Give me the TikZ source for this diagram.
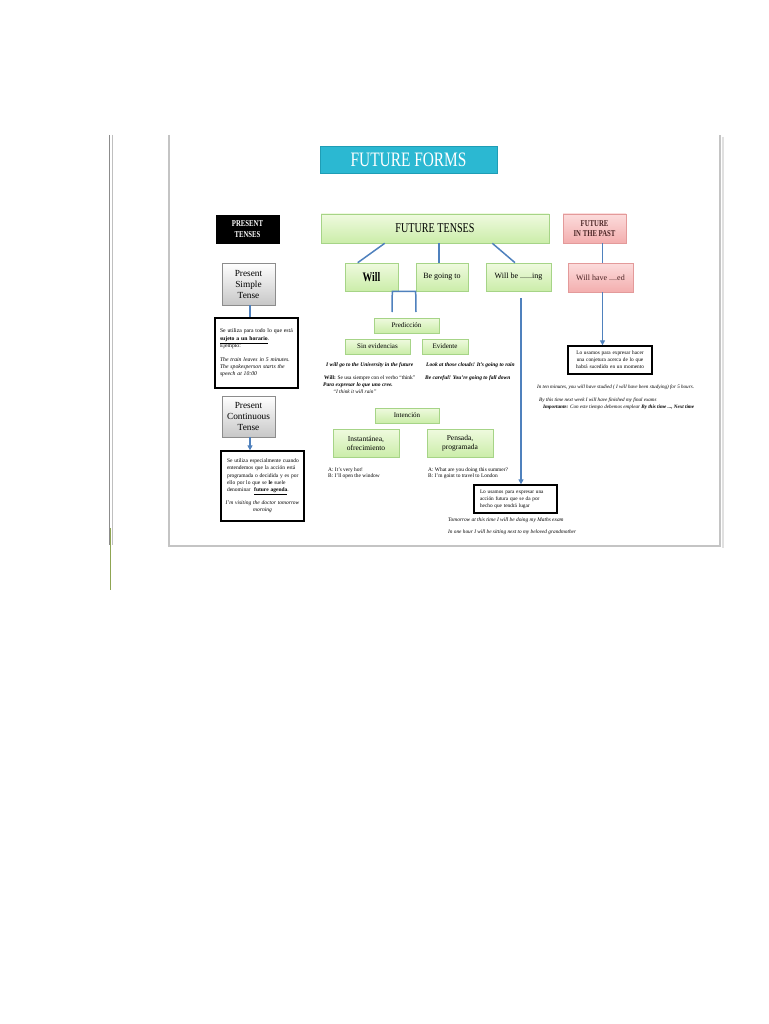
\documentclass[tikz,border=0pt]{standalone}
\usepackage{fontspec}
\setmainfont{Liberation Serif}
\newfontfamily\condfont[FakeStretch=0.75]{Liberation Serif}
\usetikzlibrary{shadows,arrows.meta}
\definecolor{lineblue}{HTML}{4F81BD}
\definecolor{gtop}{HTML}{EFFADF}
\definecolor{gbot}{HTML}{CBEDA9}
\definecolor{gborder}{HTML}{A6D487}
\definecolor{ptop}{HTML}{FCDCDC}
\definecolor{pbot}{HTML}{F3AEAE}
\definecolor{pborder}{HTML}{E39A9A}
\definecolor{teal1}{HTML}{2BB8D2}
\definecolor{teal2}{HTML}{1F9DB5}
\definecolor{framegray}{HTML}{C4C4C4}
\definecolor{darkred}{HTML}{4A2424}
\definecolor{olivemark}{HTML}{8FA552}
\newcommand{\jline}[2]{\makebox[#1][s]{#2}}
\tikzset{
  box/.style={draw, inner sep=0pt, align=center,
    drop shadow={shadow xshift=1pt, shadow yshift=-1pt, opacity=0.3}},
  greenbox/.style={box, top color=gtop, bottom color=gbot, draw=gborder, line width=0.6pt},
  graybox/.style={box, top color=white, bottom color=black!22, draw=black!45, line width=0.6pt},
  pinkbox/.style={box, top color=ptop, bottom color=pbot, draw=pborder, line width=0.6pt},
  tbox/.style={draw=black, line width=1.3pt, fill=white, inner sep=0pt, align=left},
  conn/.style={draw=lineblue, line width=1.5pt},
  arr/.style={conn, -{Triangle[length=5pt,width=5pt]}},
  txt/.style={inner sep=0pt, anchor=west, align=left},
}
\begin{document}
\begin{tikzpicture}[x=1pt,y=-1pt]
\fill[white] (0,0) rectangle (768,1024);
\useasboundingbox (0,0) rectangle (768,1024);
% page edges
\draw[black!45, line width=1pt] (109.5,135) -- (109.5,545);
\draw[black!25, line width=0.8pt] (112,135) -- (112,545);
\draw[olivemark, line width=0.9pt] (110,528) -- (110,590);
% frame
\draw[black!12, line width=1.6pt] (723,137) -- (723,548);
\draw[framegray, line width=1.2pt] (169,135) -- (169,546) -- (720,546) -- (720,135);

% title
\node[box, fill=teal1, draw=teal2, line width=0.8pt, minimum width=177pt, minimum height=27pt,
  text=white, font=\condfont\fontsize{20.5}{22}\selectfont] (title) at (408.5,159.5) {FUTURE FORMS};

% top row
\node[box, fill=black, draw=black, minimum width=63pt, minimum height=28pt, text=white,
  font=\condfont\bfseries\fontsize{9}{10.5}\selectfont] (prest) at (247.5,229) {PRESENT\\TENSES};
\node[greenbox, minimum width=228pt, minimum height=29pt,
  font=\condfont\fontsize{13.5}{15}\selectfont] (ft) at (435,228.5) {FUTURE TENSES};
\node[pinkbox, minimum width=63pt, minimum height=29pt, text=darkred,
  font=\condfont\bfseries\fontsize{9}{10.3}\selectfont] (fitp) at (594.5,228.5) {FUTURE\\IN THE PAST};

% left column
\node[graybox, minimum width=53pt, minimum height=42pt,
  font=\fontsize{9.3}{11}\selectfont] (pst) at (248.5,284) {Present\\Simple\\Tense};
\node[tbox, minimum width=83pt, minimum height=70pt, text width=73pt,
  font=\fontsize{5.7}{7.4}\selectfont] (tb1) at (256.5,353) {%
\jline{73pt}{Se utiliza para todo lo que está}\\
\textbf{\underline{sujeto a un horario}}.\\
Ejemplo:\\[6pt]
\textit{The train leaves in 5 minutes.}\\
\jline{73pt}{\textit{The spokesperson starts the}}\\
\textit{speech at 10:00}\\[4pt]};
\node[graybox, minimum width=53pt, minimum height=41pt,
  font=\fontsize{9.3}{11}\selectfont] (pct) at (248.5,416.5) {Present\\Continuous\\Tense};
\node[tbox, minimum width=83pt, minimum height=70pt, text width=71pt,
  font=\fontsize{5.5}{7.2}\selectfont] (tb2) at (262.5,486) {%
\jline{71pt}{Se utiliza especialmente cuando}\\
\jline{71pt}{entendemos que la acción está}\\
\jline{71pt}{programada o decidida y es por}\\
\jline{71pt}{ello por lo que se \textbf{le} suele}\\
denominar\ \ \textbf{\underline{future agenda}}.\\[6pt]
\makebox[71pt][c]{\textit{I'm visiting the doctor tomorrow}}\\
\makebox[71pt][c]{\textit{morning}}};

% second row
\node[greenbox, minimum width=53pt, minimum height=28pt,
  font=\condfont\bfseries\fontsize{13}{14}\selectfont] (will) at (371.5,277) {Will};
\node[greenbox, minimum width=52pt, minimum height=28pt,
  font=\fontsize{8}{9}\selectfont] (bgt) at (442,277) {Be going to};
\node[greenbox, minimum width=65pt, minimum height=28pt,
  font=\fontsize{8}{9}\selectfont] (wbi) at (518.5,277) {Will be ......ing};
\node[pinkbox, minimum width=65pt, minimum height=29pt, text=darkred,
  font=\fontsize{8}{9}\selectfont] (wh) at (600.5,277.5) {Will have ....ed};

% prediccion / intencion
\node[greenbox, minimum width=65pt, minimum height=15pt,
  font=\fontsize{7}{8}\selectfont] (pred) at (406.5,325.5) {Predicción};
\node[greenbox, minimum width=65pt, minimum height=15pt,
  font=\fontsize{7}{8}\selectfont] (sinev) at (377.5,346.5) {Sin evidencias};
\node[greenbox, minimum width=46pt, minimum height=15pt,
  font=\fontsize{7}{8}\selectfont] (evid) at (445,346.5) {Evidente};
\node[greenbox, minimum width=64pt, minimum height=15pt,
  font=\fontsize{7}{8}\selectfont] (inten) at (407,415.5) {Intención};
\node[greenbox, minimum width=66pt, minimum height=28pt,
  font=\fontsize{7.5}{9}\selectfont] (inst) at (366,443) {Instantánea,\\ofrecimiento};
\node[greenbox, minimum width=66pt, minimum height=28pt,
  font=\fontsize{7.5}{9}\selectfont] (pens) at (460,443) {Pensada,\\programada};

% text boxes right
\node[tbox, minimum width=83pt, minimum height=28pt, text width=71pt,
  font=\fontsize{5.3}{7}\selectfont] (tb3) at (515.5,499) {%
\jline{71pt}{Lo usamos para expresar una}\\
\jline{71pt}{acción futura que se da por}\\
hecho que tendrá lugar};
\node[tbox, minimum width=84pt, minimum height=28pt, text width=76pt, align=center,
  font=\fontsize{5.3}{7}\selectfont] (tb4) at (610,360) {%
Lo usamos para expresar hacer\\
una conjetura acerca de lo que\\
habrá sucedido en un momento};

% connectors
\draw[conn] ([xshift=64pt]ft.south west) -- ([xshift=13pt]will.north west);
\draw[conn] ([xshift=4pt]ft.south) -- ([xshift=-3pt]bgt.north);
\draw[conn] ([xshift=-57pt]ft.south east) -- ([xshift=-3.5pt]wbi.north);
\draw[conn] ([xshift=8pt]fitp.south) -- ([xshift=2pt]wh.north);
\draw[conn] ([xshift=1.5pt]pst.south) -- ([xshift=-6.5pt]tb1.north);
\draw[arr] ([xshift=1.5pt]pct.south) -- ([xshift=-12.5pt]tb2.north);
\coordinate (brl) at (392,312);
\coordinate (brr) at (416,312);
\draw[conn] (brl) -- ([xshift=-6pt]will.south east) -- (bgt.south west) -- (brr);
\coordinate (wbistart) at (521,298);
\draw[arr] (wbistart) -- ([xshift=5.5pt]tb3.north);
\draw[arr] ([xshift=2pt]wh.south) -- ([xshift=-7.5pt]tb4.north);

% example texts (prediccion)
\node[txt, font=\bfseries\itshape\fontsize{5.5}{6.5}\selectfont] (ex1) at (326,365) {I will go to the University in the future};
\node[txt, font=\bfseries\itshape\fontsize{5.5}{6.5}\selectfont] (ex2) at (426,365) {Look at those clouds! It's going to rain};
\node[txt, font=\fontsize{5.4}{6.5}\selectfont] (ex3) at (324,378.5) {\textbf{Will:} Se usa siempre con el verbo ``think''};
\node[txt, font=\bfseries\itshape\fontsize{5.5}{6.5}\selectfont] (ex4) at (425,378.5) {Be careful! You're going to fall down};
\node[txt, font=\bfseries\itshape\fontsize{5.5}{6.5}\selectfont] (ex5) at (323,385) {Para expresar lo que uno cree.};
\node[txt, font=\itshape\fontsize{5.3}{6.5}\selectfont] (ex6) at (333,391.5) {``I think it will rain''};

% example texts (intencion)
\node[txt, font=\fontsize{5.4}{6.3}\selectfont] (ex7) at (328,473) {A: It's very hot!\\B: I'll open the window};
\node[txt, font=\fontsize{5.4}{6.3}\selectfont] (ex8) at (428,473) {A: What are you doing this summer?\\B: I'm goint to travel to London};

% will be ...ing examples
\node[txt, font=\itshape\fontsize{5.4}{6.5}\selectfont] (ex9) at (448,520) {Tomorrow at this time I will be doing my Maths exam};
\node[txt, font=\itshape\fontsize{5.3}{6.5}\selectfont] (ex10) at (448,532) {In one hour I will be sitting next to my beloved grandmother};

% future perfect examples
\node[txt, font=\itshape\fontsize{5.1}{6.5}\selectfont] (ex11) at (537,387) {In ten minutes, you will have studied ( I will have been studying) for 5 hours.};
\node[txt, font=\itshape\fontsize{5.1}{6.5}\selectfont] (ex12) at (539,400) {By this time next week I will have finished my final exams};
\node[txt, font=\itshape\fontsize{5.1}{6.5}\selectfont] (ex13) at (543,407) {\textbf{Importante:} Con este tiempo debemos emplear \textbf{By this time ..., Next time}};
\end{tikzpicture}
\end{document}
